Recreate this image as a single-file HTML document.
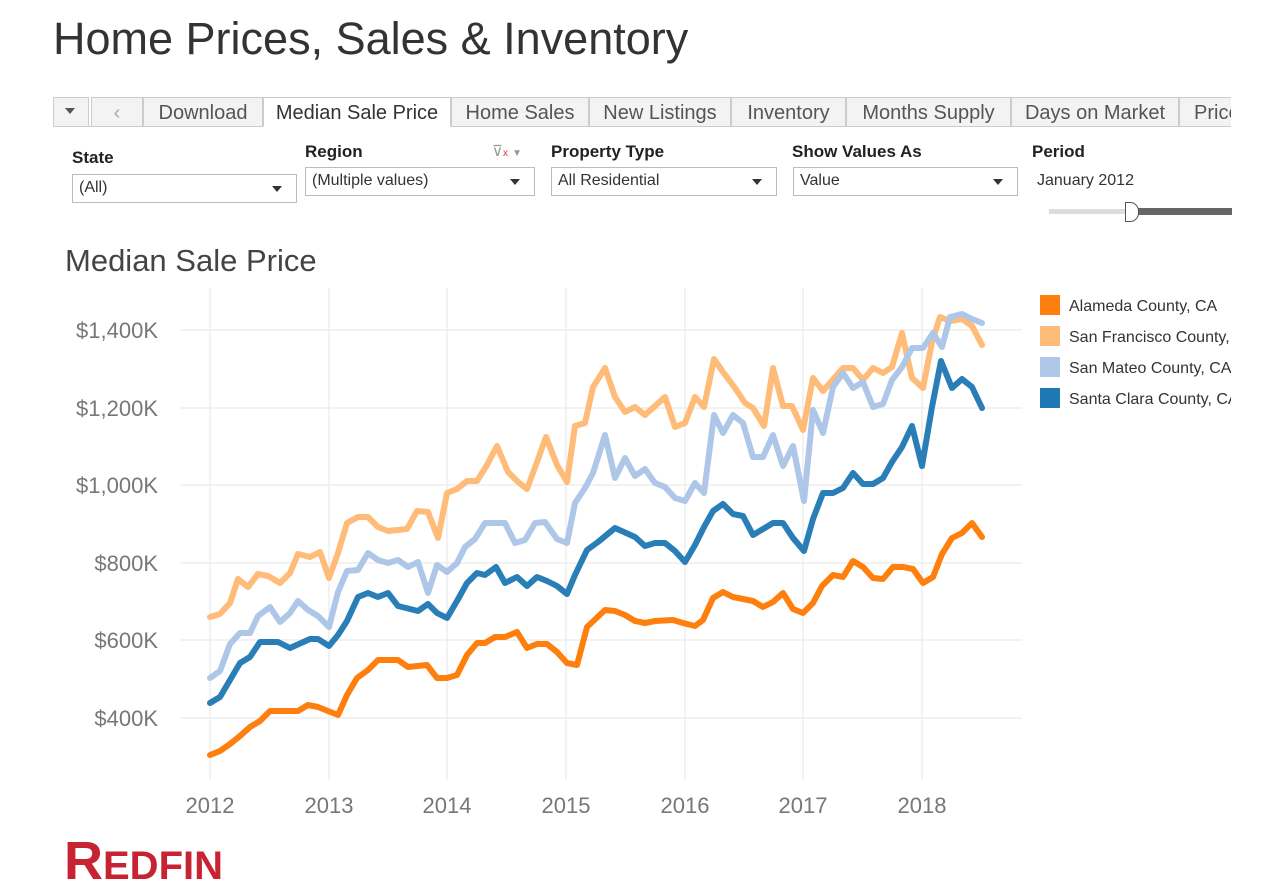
<!DOCTYPE html>
<html><head><meta charset="utf-8"><style>
body{margin:0;width:1280px;height:892px;background:#fff;font-family:"Liberation Sans",sans-serif;position:relative;overflow:hidden}
.a{position:absolute;white-space:nowrap}
.tab{position:absolute;top:97px;height:30px;border:1px solid #ccc;background:#f3f3f3;color:#555;font-size:20px;line-height:30px;text-align:center;box-sizing:border-box}
.lab{position:absolute;font-weight:bold;font-size:17px;color:#222}
.dd{position:absolute;height:29px;border:1px solid #bbb;box-sizing:border-box;font-size:16px;color:#333;line-height:26px;padding-left:6px}
.dd:after{content:"";position:absolute;right:14px;top:11px;border-left:5px solid transparent;border-right:5px solid transparent;border-top:6px solid #333}
</style></head><body>
<div class="a" style="left:53px;top:13px;font-size:45px;color:#333">Home Prices, Sales &amp; Inventory</div>
<div class="tab" style="left:53px;width:36px;top:97px"></div>
<div class="a" style="left:65px;top:108px;border-left:5px solid transparent;border-right:5px solid transparent;border-top:6px solid #555"></div>
<div class="tab" style="left:91px;width:52px;color:#aaa">&lsaquo;</div>
<div style="position:absolute;left:53px;right:50px;top:126px;border-top:1px solid #ccc"></div>
<div class="tab" style="left:143px;width:120px">Download</div>
<div class="tab" style="left:263px;width:188px;background:#fff;border-bottom-color:#fff;color:#333">Median Sale Price</div>
<div class="tab" style="left:451px;width:138px">Home Sales</div>
<div class="tab" style="left:589px;width:142px">New Listings</div>
<div class="tab" style="left:731px;width:115px">Inventory</div>
<div class="tab" style="left:846px;width:165px">Months Supply</div>
<div class="tab" style="left:1011px;width:168px">Days on Market</div>
<div class="tab" style="left:1179px;width:60px;text-align:left;padding-left:14px;overflow:hidden">Price</div>
<div style="position:absolute;left:1231px;top:90px;width:49px;height:802px;background:#fff"></div>
<div class="lab" style="left:72px;top:148px">State</div>
<div class="lab" style="left:305px;top:142px">Region</div>
<div class="a" style="left:492px;top:142px;color:#999;font-size:15px">⊽<span style="color:#d33;font-size:10px">x</span> <span style="font-size:10px">▼</span></div>
<div class="lab" style="left:551px;top:142px">Property Type</div>
<div class="lab" style="left:792px;top:142px">Show Values As</div>
<div class="lab" style="left:1032px;top:142px">Period</div>
<div class="dd" style="left:72px;top:174px;width:225px">(All)</div>
<div class="dd" style="left:305px;top:167px;width:230px">(Multiple values)</div>
<div class="dd" style="left:551px;top:167px;width:226px">All Residential</div>
<div class="dd" style="left:793px;top:167px;width:225px">Value</div>
<div class="a" style="left:1037px;top:172px;font-size:16px;color:#333">January 2012</div>
<div class="a" style="left:1049px;top:209px;width:83px;height:5px;background:#ddd"></div>
<div class="a" style="left:1132px;top:208px;width:100px;height:7px;background:#666"></div>
<div class="a" style="left:1125px;top:202px;width:12px;height:18px;border:1px solid #555;border-radius:0 9px 9px 0;background:#fff"></div>
<div class="a" style="left:65px;top:243px;font-size:31px;color:#444">Median Sale Price</div>
<svg class="a" style="left:0;top:0" width="1280" height="892">
<g stroke="#eee" stroke-width="1.5">
<line x1="180" x2="1022" y1="330" y2="330"/><line x1="180" x2="1022" y1="408" y2="408"/><line x1="180" x2="1022" y1="485" y2="485"/><line x1="180" x2="1022" y1="563" y2="563"/><line x1="180" x2="1022" y1="640" y2="640"/><line x1="180" x2="1022" y1="718" y2="718"/>
<line x1="210" x2="210" y1="288" y2="780"/><line x1="329" x2="329" y1="288" y2="780"/><line x1="447" x2="447" y1="288" y2="780"/><line x1="566" x2="566" y1="288" y2="780"/><line x1="685" x2="685" y1="288" y2="780"/><line x1="803" x2="803" y1="288" y2="780"/><line x1="922" x2="922" y1="288" y2="780"/>
</g>
<g font-size="22" fill="#777" text-anchor="end">
<text x="158" y="338">$1,400K</text><text x="158" y="416">$1,200K</text><text x="158" y="493">$1,000K</text><text x="158" y="571">$800K</text><text x="158" y="648">$600K</text><text x="158" y="726">$400K</text>
</g>
<g font-size="22" fill="#777" text-anchor="middle">
<text x="210" y="813">2012</text><text x="329" y="813">2013</text><text x="447" y="813">2014</text><text x="566" y="813">2015</text><text x="685" y="813">2016</text><text x="803" y="813">2017</text><text x="922" y="813">2018</text>
</g>
<g fill="none" stroke-width="6" stroke-linejoin="round" stroke-linecap="round">
<polyline stroke="#ffbb78" points="210,617 220,614 230,603 238,579 248,587 258,574 268,576 280,583 290,573 298,554 310,557 320,552 329,578 338,553 347,523 358,517 368,517 378,527 388,531 407,529 417,511 428,512 438,538 447,493 457,489 467,481 477,481 487,465 497,446 508,472 518,482 527,489 537,462 546,437 557,465 567,482 575,426 585,423 593,387 605,368 615,397 625,412 635,407 645,415 665,397 675,427 685,423 695,397 704,407 714,359 723,372 735,388 745,403 753,408 764,426 773,368 783,406 792,406 803,430 813,378 823,391 843,368 853,368 863,380 873,368 883,373 892,367 902,333 912,378 923,388 932,342 940,317 950,321 962,319 972,326 982,345"/>
<polyline stroke="#aec7e8" points="210,678 220,671 230,644 240,633 250,633 258,616 270,607 280,622 290,613 298,601 308,610 318,616 329,627 338,592 347,571 358,570 368,553 378,560 388,563 398,560 408,567 418,562 428,593 437,565 447,572 457,563 465,547 475,539 485,523 505,523 515,543 525,540 535,523 545,522 557,539 567,543 575,503 585,488 593,473 605,435 615,478 625,458 635,476 645,469 655,483 665,487 675,498 685,501 695,483 704,493 714,415 723,433 733,415 743,423 753,457 763,457 773,435 783,466 793,446 804,501 813,410 823,433 833,387 843,373 853,388 863,382 873,407 883,404 892,380 902,367 912,348 923,348 933,333 942,347 950,317 962,314 972,319 982,323"/>
<polyline stroke="#1f77b4" stroke-opacity="0.95" points="210,703 220,697 230,680 240,663 250,657 260,642 278,642 290,648 310,639 318,639 329,646 338,635 347,621 358,597 368,593 378,597 388,593 398,606 418,611 428,604 437,613 447,618 457,601 467,583 477,573 485,575 496,567 505,583 517,577 527,586 537,577 547,581 557,586 567,594 575,575 587,550 598,542 615,528 635,537 645,546 655,543 665,543 675,551 685,562 695,545 704,527 713,511 723,504 733,514 743,516 753,535 773,523 783,523 793,538 804,551 813,519 823,493 833,493 843,488 853,473 863,484 873,484 883,478 892,462 902,447 912,426 922,466 932,407 941,361 952,388 962,379 972,387 982,408"/>
<polyline stroke="#ff7f0e" points="210,755 220,751 230,744 240,736 250,727 260,721 270,711 298,711 308,705 318,707 338,715 347,695 357,678 368,670 378,660 398,660 408,667 427,665 437,678 447,678 457,675 467,655 477,643 485,643 495,637 505,637 517,632 527,648 537,644 547,644 557,652 567,663 577,665 587,627 605,610 615,611 625,615 635,621 645,623 655,621 673,620 683,623 695,626 703,620 713,598 723,592 733,597 753,601 763,607 773,602 783,593 793,609 803,613 813,603 822,586 833,575 843,577 853,561 863,567 873,578 883,579 893,567 903,567 913,569 923,583 933,577 942,554 952,538 962,533 972,523 982,537"/>
</g>
<rect x="1040" y="295" width="20" height="20" fill="#ff7f0e"/>
<rect x="1040" y="326" width="20" height="20" fill="#ffbb78"/>
<rect x="1040" y="357" width="20" height="20" fill="#aec7e8"/>
<rect x="1040" y="388" width="20" height="20" fill="#1f77b4"/>
<g font-size="16" fill="#333">
<text x="1069" y="311">Alameda County, CA</text>
<text x="1069" y="342">San Francisco County, CA</text>
<text x="1069" y="373">San Mateo County, CA</text>
<text x="1069" y="404">Santa Clara County, CA</text>
</g>
<rect x="1231" y="280" width="49" height="140" fill="#fff"/>
</svg>
<div class="a" style="left:64px;top:830px;font-size:54px;font-weight:bold;color:#c82333;line-height:1.15">R<span style="font-size:40px">EDFIN</span></div>
</body></html>
